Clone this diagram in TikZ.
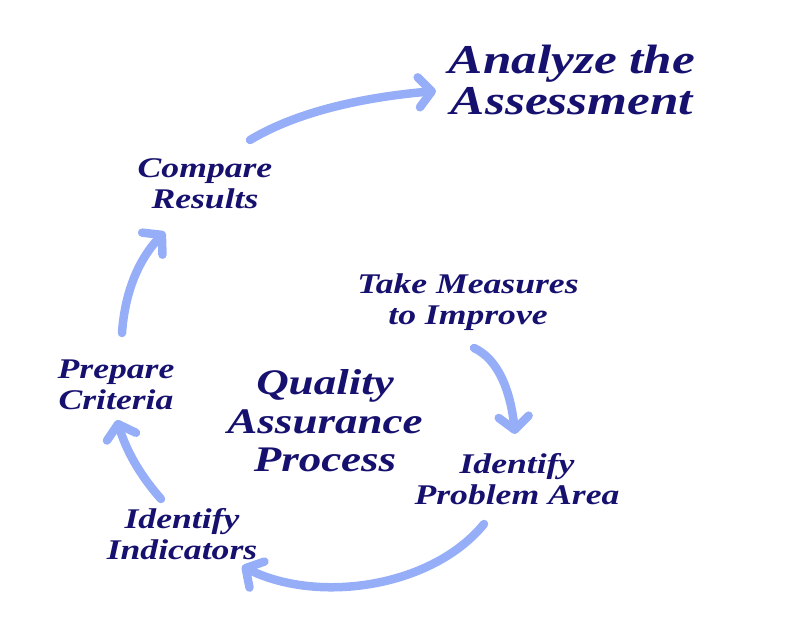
\documentclass[tikz,border=0pt]{standalone}
\usepackage{fontspec}
\setmainfont[FakeStretch=1.25]{Liberation Serif}
\usetikzlibrary{arrows.meta,bending}
\definecolor{labelblue}{RGB}{22,16,110}
\definecolor{arrowblue}{RGB}{150,174,248}
\tikzset{lab/.style={text=labelblue, font=\itshape\bfseries\fontsize{28.5pt}{31pt}\selectfont, align=center, inner sep=0pt},
    biglab/.style={lab, font=\itshape\bfseries\fontsize{41pt}{41pt}\selectfont},
    midlab/.style={lab, font=\itshape\bfseries\fontsize{36pt}{38.5pt}\selectfont},
    flow/.style={draw=arrowblue, line width=8.5pt, line cap=round, -{Straight Barb[length=13pt,width=30pt,line width=8.5pt,round]}}}

\begin{document}
\begin{tikzpicture}[x=1pt,y=-1pt]
    \useasboundingbox (0,0) rectangle (800,628);
    \node[biglab] (analyze) at (572,80) {Analyze the\\Assessment};
    \node[lab] (compare) at (205,184) {Compare\\Results};
    \node[lab] (prepare) at (116,385) {Prepare\\Criteria};
    \node[lab] (indicators) at (182,534) {Identify\\Indicators};
    \node[lab] (area) at (517,479) {Identify\\Problem Area};
    \node[lab] (measures) at (468,302) {Take Measures\\to Improve};
    \node[midlab] (quality) at (325,421) {Quality\\Assurance\\Process};
    \coordinate (c1a) at (250,140);
    \coordinate (c1b) at (436,91);
    \coordinate (c2a) at (122,333);
    \coordinate (c2b) at (165,232);
    \coordinate (c3a) at (161,499);
    \coordinate (c3b) at (117,420);
    \coordinate (c4a) at (484,524);
    \coordinate (c4b) at (242,566);
    \coordinate (c5a) at (474,348);
    \coordinate (c5b) at (515,434);
    \draw[flow] (c1a) .. controls (300,110) and (370,96) .. (c1b);
    \draw[flow] (c2a) .. controls (125,290) and (140,255) .. (c2b);
    \draw[flow] (c3a) .. controls (140,475) and (125,450) .. (c3b);
    \draw[flow] (c4a) .. controls (430,590) and (310,605) .. (c4b);
    \draw[flow] (c5a) .. controls (500,360) and (512,395) .. (c5b);
\end{tikzpicture}
\end{document}
